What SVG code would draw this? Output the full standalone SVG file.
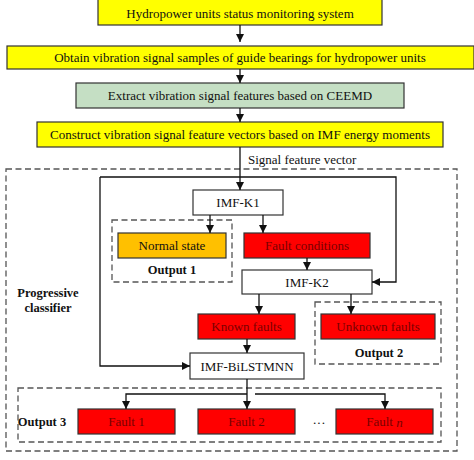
<svg xmlns="http://www.w3.org/2000/svg" width="474" height="460" viewBox="0 0 474 460">
<style>
text{font-family:"Liberation Serif","Times New Roman",serif;font-size:13px;fill:#111;text-anchor:middle;dominant-baseline:central}
.b{stroke:#333;stroke-width:1.2}
.y{fill:#ffff00}
.g{fill:#c5dfc4}
.w{fill:#fff}
.o{fill:#ffc000}
.r{fill:#ff0000}
.rt{fill:#7a0000}
.d{fill:none;stroke:#555;stroke-width:1.3;stroke-dasharray:6,3.5}
.lb{font-weight:bold;font-size:12.5px}
.c{fill:none;stroke:#111;stroke-width:1.3}
</style>
<defs>
<marker id="a" viewBox="0 0 10 10" refX="10" refY="5" markerWidth="8" markerHeight="8" markerUnits="userSpaceOnUse" orient="auto">
<path d="M0,0L10,5L0,10z" fill="#111"/>
</marker>
</defs>
<rect x="0" y="0" width="474" height="460" fill="#fff"/>
<g id="n1"><rect class="b y" x="98" y="-1" width="284" height="26"/><text x="240" y="13">Hydropower units status monitoring system</text></g>
<g id="n2"><rect class="b y" x="7" y="46" width="467" height="23"/><text x="240" y="57.5">Obtain vibration signal samples of guide bearings for hydropower units</text></g>
<g id="n3"><rect class="b g" x="76" y="83" width="328" height="25"/><text x="240" y="95.5">Extract vibration signal features based on CEEMD</text></g>
<g id="n4"><rect class="b y" x="37" y="122" width="406" height="25"/><text x="240" y="134.5">Construct vibration signal feature vectors based on IMF energy moments</text></g>
<g id="classifier"><rect class="d" x="6" y="169" width="451" height="282"/><text class="lb" x="48" y="293">Progressive</text><text class="lb" x="48" y="308">classifier</text></g>
<g id="out1"><rect class="d" x="112" y="220" width="120" height="62"/><text class="lb" x="172" y="270">Output 1</text></g>
<g id="out2"><rect class="d" x="315" y="302" width="126" height="62"/><text class="lb" x="379" y="353">Output 2</text></g>
<g id="out3"><rect class="d" x="18" y="388" width="423" height="54"/><text class="lb" x="42" y="422">Output 3</text></g>
<g id="k1"><rect class="b w" x="193" y="190" width="90" height="25"/><text x="238" y="202.5">IMF-K1</text></g>
<g id="normal"><rect class="b o" x="118" y="233" width="108" height="25"/><text x="172" y="245.5">Normal state</text></g>
<g id="fault"><rect class="b r" x="244" y="233" width="126" height="25"/><text class="rt" x="307" y="245.5">Fault conditions</text></g>
<g id="k2"><rect class="b w" x="242" y="270" width="130" height="24"/><text x="307" y="282">IMF-K2</text></g>
<g id="known"><rect class="b r" x="198" y="314" width="97" height="25"/><text class="rt" x="246.5" y="326.5">Known faults</text></g>
<g id="unknown"><rect class="b r" x="321" y="314" width="114" height="25"/><text class="rt" x="378" y="326.5">Unknown faults</text></g>
<g id="bilstm"><rect class="b w" x="190" y="353" width="114" height="26"/><text x="247" y="366">IMF-BiLSTMNN</text></g>
<g id="f1"><rect class="b r" x="78" y="409" width="97" height="25"/><text class="rt" x="126.5" y="421.5">Fault 1</text></g>
<g id="f2"><rect class="b r" x="198" y="409" width="97" height="25"/><text class="rt" x="246.5" y="421.5">Fault 2</text></g>
<g id="fn"><rect class="b r" x="336" y="409" width="97" height="25"/><text class="rt" x="384.5" y="421.5">Fault <tspan font-style="italic">n</tspan></text></g>
<text x="319" y="422">···</text>
<text x="248" y="159" style="text-anchor:start">Signal feature vector</text>
<g id="connectors">
<path class="c" d="M240,25V42" marker-end="url(#a)"/>
<path class="c" d="M240,69V83" marker-end="url(#a)"/>
<path class="c" d="M240,108V122" marker-end="url(#a)"/>
<path class="c" d="M240,147V190" marker-end="url(#a)"/>
<path class="c" d="M100,177H396V282H372" marker-end="url(#a)"/>
<path class="c" d="M100,177V366H190" marker-end="url(#a)"/>
<path class="c" d="M210,215V233" marker-end="url(#a)"/>
<path class="c" d="M263,215V233" marker-end="url(#a)"/>
<path class="c" d="M307,258V270" marker-end="url(#a)"/>
<path class="c" d="M259,294V314" marker-end="url(#a)"/>
<path class="c" d="M351,294V314" marker-end="url(#a)"/>
<path class="c" d="M247,339V353" marker-end="url(#a)"/>
<path class="c" d="M247,379V409" marker-end="url(#a)"/>
<path class="c" d="M247,394H126V409" marker-end="url(#a)"/>
<path class="c" d="M255,394H385V409" marker-end="url(#a)"/>
</g>
</svg>
